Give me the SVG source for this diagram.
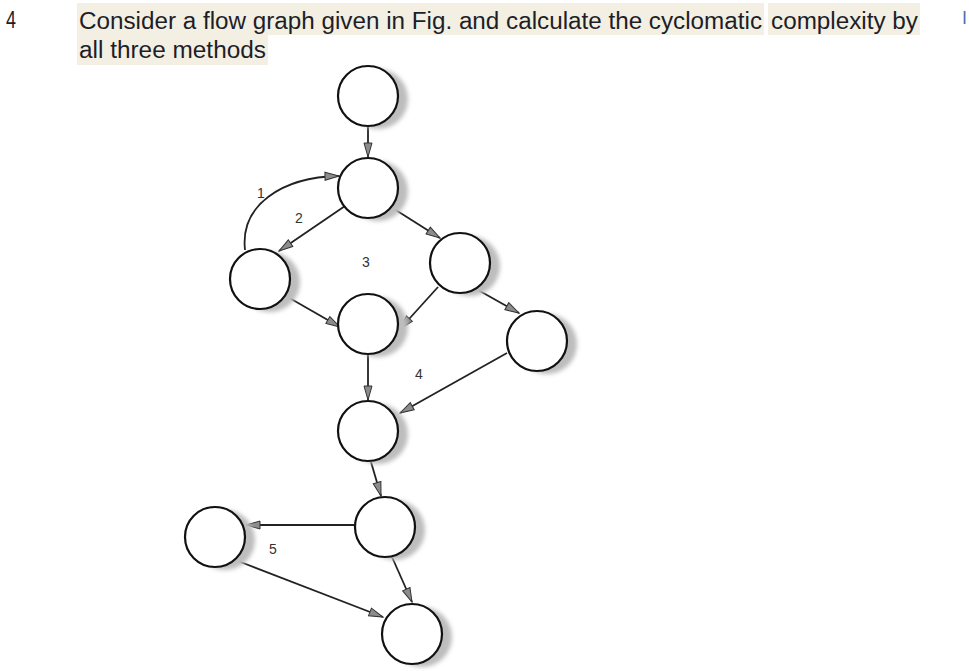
<svg xmlns="http://www.w3.org/2000/svg" width="969" height="671" viewBox="0 0 969 671">
<defs>
<filter id="blur" x="-30%" y="-30%" width="160%" height="160%"><feGaussianBlur stdDeviation="2"/></filter>
<marker id="arr" viewBox="0 0 16 10" refX="15" refY="5" markerWidth="16" markerHeight="10" markerUnits="userSpaceOnUse" orient="auto">
<path d="M1,1 L15,5 L1,9 Z" fill="#8c8c8c" stroke="#333" stroke-width="1"/>
</marker>
</defs>
<style>
.hl{fill:#f3f0e3}
.q{font-family:"Liberation Sans",Arial,sans-serif;font-size:23px;fill:#1e1e28}
.sh{fill:#bdbdbd;filter:url(#blur)}
.nd{fill:#fff;stroke:#111;stroke-width:2.2}
.e{fill:none;stroke:#222;stroke-width:1.8;marker-end:url(#arr)}
.lb{font-family:"Liberation Sans",Arial,sans-serif;font-size:14px;fill:#333}
</style>
<rect width="969" height="671" fill="#fff"/>
<g id="question">
<rect class="hl" x="77" y="3" width="687" height="32"/>
<rect class="hl" x="768" y="3" width="152" height="32"/>
<rect class="hl" x="77" y="35" width="191" height="30"/>
<text class="q" x="6" y="28" textLength="10" lengthAdjust="spacingAndGlyphs">4</text>
<text class="q" x="79" y="29" textLength="683" lengthAdjust="spacingAndGlyphs">Consider a flow graph given in Fig. and calculate the cyclomatic</text>
<text class="q" x="771" y="29" textLength="147" lengthAdjust="spacingAndGlyphs">complexity by</text>
<text class="q" x="79" y="58" textLength="187" lengthAdjust="spacingAndGlyphs">all three methods</text>
<text class="q" x="962" y="24" style="fill:#4a6fb5;font-size:18px">I</text>
</g>
<g id="connectors">
<line class="e" x1="368" y1="127" x2="368" y2="157"/>
<path class="e" d="M245,250 C240,205 282,177 339,176"/>
<line class="e" x1="345" y1="206" x2="279" y2="251"/>
<line class="e" x1="391" y1="207" x2="440" y2="238"/>
<line class="e" x1="286" y1="296" x2="340" y2="327"/>
<line class="e" x1="438" y1="287" x2="400" y2="329"/>
<line class="e" x1="478" y1="290" x2="519" y2="313"/>
<line class="e" x1="368" y1="355" x2="368" y2="400"/>
<line class="e" x1="507" y1="353" x2="400" y2="413"/>
<line class="e" x1="371" y1="462" x2="381" y2="496"/>
<line class="e" x1="354" y1="525" x2="246" y2="525"/>
<line class="e" x1="392" y1="557" x2="412" y2="602"/>
<line class="e" x1="238" y1="561" x2="383" y2="617"/>
</g>
<g id="labels">
<text class="lb" x="257" y="198">1</text>
<text class="lb" x="295" y="223">2</text>
<text class="lb" x="362" y="267">3</text>
<text class="lb" x="415" y="379">4</text>
<text class="lb" x="269" y="554">5</text>
</g>
<g id="n1"><circle class="sh" cx="378" cy="99" r="30"/><circle class="nd" cx="368" cy="96" r="30"/></g>
<g id="n2"><circle class="sh" cx="378" cy="191" r="30"/><circle class="nd" cx="368" cy="188" r="30"/></g>
<g id="n3"><circle class="sh" cx="270" cy="282" r="30"/><circle class="nd" cx="260" cy="279" r="30"/></g>
<g id="n4"><circle class="sh" cx="378" cy="327" r="30"/><circle class="nd" cx="368" cy="324" r="30"/></g>
<g id="n5"><circle class="sh" cx="470" cy="266" r="30"/><circle class="nd" cx="460" cy="263" r="30"/></g>
<g id="n6"><circle class="sh" cx="547" cy="344" r="30"/><circle class="nd" cx="537" cy="341" r="30"/></g>
<g id="n7"><circle class="sh" cx="378" cy="434" r="30"/><circle class="nd" cx="368" cy="431" r="30"/></g>
<g id="n8"><circle class="sh" cx="395" cy="530" r="30"/><circle class="nd" cx="385" cy="527" r="30"/></g>
<g id="n9"><circle class="sh" cx="225" cy="540" r="30"/><circle class="nd" cx="215" cy="537" r="30"/></g>
<g id="n10"><circle class="sh" cx="422" cy="637" r="30"/><circle class="nd" cx="412" cy="634" r="30"/></g>
</svg>
